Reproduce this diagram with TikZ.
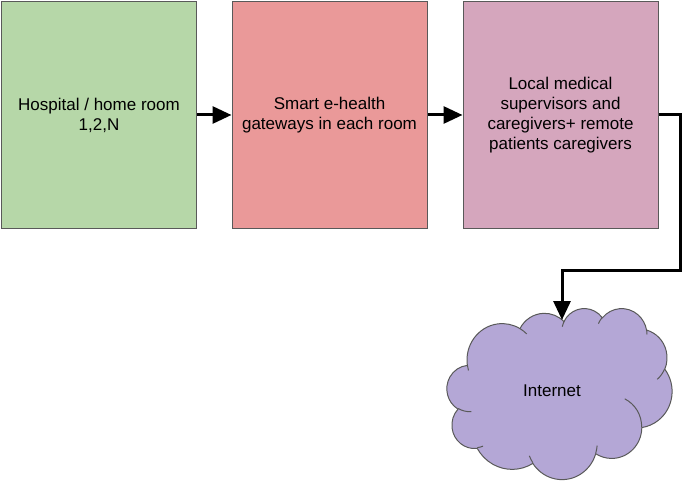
\documentclass[tikz,border=0pt]{standalone}
\usepackage{fontspec}
\setmainfont{Liberation Sans}
\usetikzlibrary{arrows.meta}
\definecolor{boxgreen}{HTML}{B6D7A8}
\definecolor{boxred}{HTML}{EA9999}
\definecolor{boxpink}{HTML}{D5A6BD}
\definecolor{cloudpurple}{HTML}{B4A7D6}
\definecolor{edgegray}{HTML}{595959}
\tikzset{
  stagebox/.style={draw=edgegray, line width=1pt, minimum width=195pt, minimum height=226pt,
    inner sep=0pt, align=center, font=\fontsize{17}{20}\selectfont, text=black},
  conn/.style={line width=3pt, -{Triangle[length=19pt,width=17pt]}},
  cloudline/.style={draw=edgegray, line width=1pt},
  labeltext/.style={font=\fontsize{17}{20}\selectfont, text=black},
}
\newcommand\cloudarc[4]{arc[x radius={#1*0.52083pt}, y radius={#2*0.39583pt},
  start angle={-ptang(#3,#1,#2)}, end angle={-ptang(#3+#4,#1,#2)}]}
\begin{document}
\begin{tikzpicture}[x=1pt, y=-1pt,
  declare function={ptang(\ang,\rx,\ry)=\ang+(atan2(\rx*sin(\ang),\ry*cos(\ang))-\ang)-360*round((atan2(\rx*sin(\ang),\ry*cos(\ang))-\ang)/360);}]
\useasboundingbox (0,0) rectangle (685,481);

\node[stagebox, fill=boxgreen] (g) at (99,115) {Hospital / home room\\1,2,N};
\node[stagebox, fill=boxred] (r) at (329.5,115) {Smart e-health\\gateways in each room};
\node[stagebox, fill=boxpink] (p) at (560.5,115) {Local medical\\supervisors and\\caregivers+ remote\\patients caregivers};

\begin{scope}[shift={(447,308)}, x=0.52083pt, y=-0.39583pt]
\path[fill=cloudpurple, cloudline] (39.00,143.70)
  \cloudarc{67.53}{91.90}{-190.487}{123.781}
  \cloudarc{53.33}{72.67}{-144.102}{89.945}
  \cloudarc{43.65}{59.45}{-145.808}{99.723}
  \cloudarc{48.57}{65.95}{-130.986}{117.242}
  \cloudarc{53.33}{72.73}{-78.709}{109.027}
  \cloudarc{67.75}{92.20}{-46.267}{130.269}
  \cloudarc{57.85}{78.67}{0.625}{114.033}
  \cloudarc{67.52}{92.15}{22.452}{115.173}
  \cloudarc{77.20}{105.43}{66.243}{75.711}
  \cloudarc{43.60}{59.18}{-274.942}{146.736}
  \cloudarc{43.45}{59.45}{-246.829}{152.519}
  -- cycle;
\path[cloudline]
  (46.93,261.77) \cloudarc{43.45}{59.45}{86.742}{26.430}
  (69.28,348.99) \cloudarc{43.60}{59.18}{73.610}{11.447}
  (164.78,390.90) \cloudarc{67.52}{92.15}{137.624}{14.081}
  (288.27,347.51) \cloudarc{67.52}{92.15}{6.453}{15.998}
  (341.29,229.54) \cloudarc{57.85}{78.67}{-70.292}{70.917}
  (417.98,153.54) \cloudarc{53.33}{72.73}{30.318}{27.752}
  (383.24,54.26) \cloudarc{48.57}{65.95}{-13.744}{14.859}
  (290.78,39.52) \cloudarc{48.57}{65.95}{-149.181}{18.195}
  (221.41,47.20) \cloudarc{43.65}{59.45}{-163.494}{17.686}
  (140.00,51.92) \cloudarc{67.53}{91.90}{-66.707}{12.319}
  (41.27,157.89) \cloudarc{67.53}{91.90}{157.654}{11.858};
\end{scope}

\node[labeltext] (inet) at (552,391) {Internet};

\coordinate (bend) at (680,270);
\coordinate (cloudtop) at (562,320);

\draw[conn] (g) -- (r);
\draw[conn] (r) -- (p);
\draw[conn] (p.east) -| (bend) -| (cloudtop);
\end{tikzpicture}
\end{document}
